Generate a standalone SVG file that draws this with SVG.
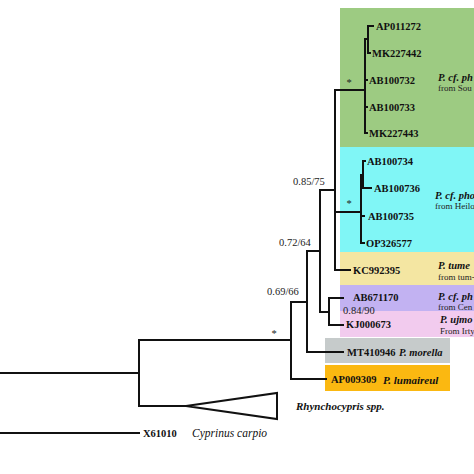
<svg xmlns="http://www.w3.org/2000/svg" width="474" height="474" viewBox="0 0 474 474">
<style>
.acc{font-family:"Liberation Serif",serif;font-weight:bold;font-size:10.5px;fill:#111}
.sp{font-family:"Liberation Serif",serif;font-weight:bold;font-style:italic;font-size:10.5px;fill:#111}
.it{font-family:"Liberation Serif",serif;font-style:italic;font-size:11.5px;fill:#111}
.from{font-family:"Liberation Serif",serif;font-size:9px;fill:#222}
.sup{font-family:"Liberation Serif",serif;font-size:10.5px;fill:#222}
.edges path,.edges polygon{fill:none;stroke:#111;stroke-width:2;stroke-linecap:square}
</style>
<rect width="474" height="474" fill="#fff"/>
<g id="backgrounds">
<rect x="340" y="8" width="134" height="139" fill="#9dcb82"/>
<rect x="340" y="147" width="134" height="105" fill="#80f6f6"/>
<rect x="340" y="252" width="134" height="33" fill="#f4e6a2"/>
<rect x="340" y="285" width="134" height="26" fill="#c2b2f2"/>
<rect x="340" y="311" width="134" height="26" fill="#f2cbee"/>
<rect x="325" y="338" width="125" height="25" fill="#c6cbcb"/>
<rect x="325" y="365" width="125" height="26" fill="#fbb811"/>
</g>
<g class="edges" id="connectors">
<path d="M0 373H139M139 340V406M139 340H291M0 433H139"/>
<path d="M139 406H186"/>
<polygon points="186,406 277,393 277,419"/>
<path d="M291 302V379M291 379H326M291 302H307"/>
<path d="M307 251V352M307 352H343M307 251H320"/>
<path d="M320 190V312M320 312H329M329 298V325M329 298H343M329 325H343"/>
<path d="M320 190H335M335 90V270M335 270H350"/>
<path d="M335 90H365M365 39V133M365 39H368M368 26V53M368 26H373M368 53H370M365 80H367M365 107H367M365 133H367"/>
<path d="M335 212H361M361 175V243M361 175H363M363 161V188M363 161H365M363 188H371M361 216H364M361 243H364"/>
</g>
<g id="support">
<text class="sup" x="349" y="86" text-anchor="middle">*</text>
<text class="sup" x="349" y="207" text-anchor="middle">*</text>
<text class="sup" x="274" y="337" text-anchor="middle">*</text>
<text class="sup" x="293" y="185">0.85/75</text>
<text class="sup" x="279" y="246">0.72/64</text>
<text class="sup" x="267" y="295">0.69/66</text>
<text class="sup" x="343" y="314">0.84/90</text>
</g>
<g id="n-AP011272"><text class="acc" x="376" y="29.5">AP011272</text></g>
<g id="n-MK227442"><text class="acc" x="372" y="56.5">MK227442</text></g>
<g id="n-AB100732"><text class="acc" x="369" y="84">AB100732</text></g>
<g id="n-AB100733"><text class="acc" x="369" y="110.5">AB100733</text></g>
<g id="n-MK227443"><text class="acc" x="369" y="137">MK227443</text></g>
<g id="n-AB100734"><text class="acc" x="367" y="165">AB100734</text></g>
<g id="n-AB100736"><text class="acc" x="374" y="192">AB100736</text></g>
<g id="n-AB100735"><text class="acc" x="368" y="219.5">AB100735</text></g>
<g id="n-OP326577"><text class="acc" x="366" y="247">OP326577</text></g>
<g id="n-KC992395"><text class="acc" x="353" y="274">KC992395</text></g>
<g id="n-AB671170"><text class="acc" x="353" y="301">AB671170</text></g>
<g id="n-KJ000673"><text class="acc" x="346" y="328">KJ000673</text></g>
<g id="n-MT410946"><text class="acc" x="347" y="355.5">MT410946</text><text class="sp" x="399" y="356">P. morella</text></g>
<g id="n-AP009309"><text class="acc" x="331" y="383">AP009309</text><text class="sp" x="383" y="384" style="font-size:11px">P. lumaireul</text></g>
<g id="n-Rhynchocypris"><text class="sp" x="296" y="410" style="font-size:11px">Rhynchocypris spp.</text></g>
<g id="n-X61010"><text class="acc" x="143" y="437">X61010</text><text class="it" x="192" y="437">Cyprinus carpio</text></g>
<g id="clade-green"><text class="sp" x="438" y="81">P. cf. ph</text><text class="from" x="438" y="91">from Sou</text></g>
<g id="clade-cyan"><text class="sp" x="435" y="199">P. cf. pho</text><text class="from" x="435" y="208.5">from Heilo</text></g>
<g id="clade-yellow"><text class="sp" x="438" y="269">P. tume</text><text class="from" x="438" y="280">from tum-</text></g>
<g id="clade-purple"><text class="sp" x="438" y="300">P. cf. ph</text><text class="from" x="438" y="309.5">from Cen</text></g>
<g id="clade-pink"><text class="sp" x="440" y="323">P. ujmo</text><text class="from" x="440" y="334">From Irty</text></g>
</svg>
